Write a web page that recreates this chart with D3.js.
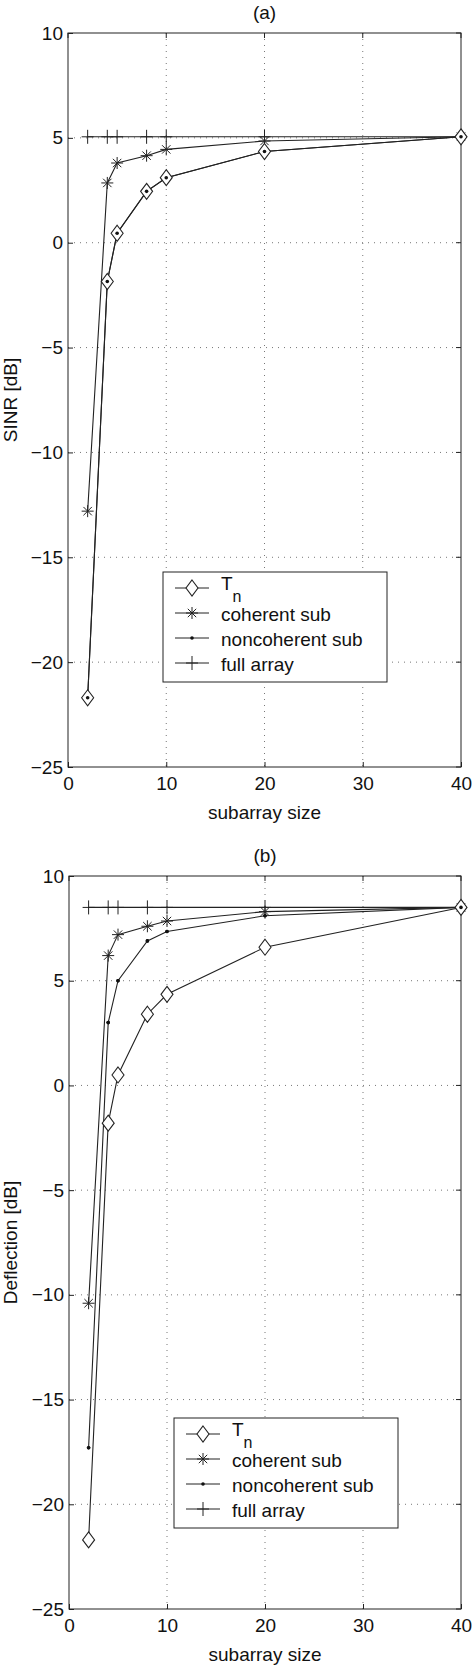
<!DOCTYPE html>
<html lang="en">
<head>
<meta charset="UTF-8">
<script src="https://cdn.jsdelivr.net/npm/d3@7"></script>
<style>
  body { margin: 0; background: #fff; }
  text { font-family: "Liberation Sans", Arial, sans-serif; fill: #111; }
</style>
</head>
<body>
<svg id="fig" width="474" height="1666"></svg>
<script>
var sizes = [2, 4, 5, 8, 10, 20, 40];

// panel (a) SINR
var sinrTn = [-21.7, -1.85, 0.45, 2.45, 3.1, 4.35, 5.05];
var sinrCoh = [-12.8, 2.85, 3.8, 4.15, 4.45, 4.85, 5.05];
var sinrNon = [-21.7, -1.85, 0.45, 2.45, 3.1, 4.35, 5.05];
var sinrFull = [5.05, 5.05, 5.05, 5.05, 5.05, 5.05, 5.05];

// panel (b) deflection
var defTn = [-21.7, -1.8, 0.5, 3.4, 4.35, 6.6, 8.5];
var defCoh = [-10.4, 6.2, 7.2, 7.6, 7.85, 8.3, 8.5];
var defNon = [-17.3, 3.0, 5.0, 6.9, 7.35, 8.1, 8.5];
var defFull = [8.5, 8.5, 8.5, 8.5, 8.5, 8.5, 8.5];

var xTicks = [0, 10, 20, 30, 40];
var yTicks = [10, 5, 0, -5, -10, -15, -20, -25];
var legendLabels = ["T", "coherent sub", "noncoherent sub", "full array"];

var svg = d3.select("#fig");

function panel(cfg) {
  var x = d3.scaleLinear().domain([0, 40]).range([cfg.left, cfg.right]);
  var y = d3.scaleLinear().domain([-25, 10]).range([cfg.bottom, cfg.top]);
  var g = svg.append("g");

  // dotted grid
  xTicks.slice(1, -1).forEach(function (t) {
    g.append("line").attr("x1", x(t)).attr("x2", x(t)).attr("y1", cfg.top).attr("y2", cfg.bottom)
      .attr("stroke", "#777").attr("stroke-dasharray", "1,5");
  });
  yTicks.slice(1, -1).forEach(function (t) {
    g.append("line").attr("x1", cfg.left).attr("x2", cfg.right).attr("y1", y(t)).attr("y2", y(t))
      .attr("stroke", "#777").attr("stroke-dasharray", "1,5");
  });

  // frame and axes
  g.append("rect").attr("x", cfg.left).attr("y", cfg.top)
    .attr("width", cfg.right - cfg.left).attr("height", cfg.bottom - cfg.top)
    .attr("fill", "none").attr("stroke", "#222");

  var xa = g.append("g").attr("transform", "translate(0," + cfg.bottom + ")")
    .call(d3.axisBottom(x).tickValues(xTicks).tickSize(-5).tickPadding(10));
  var ya = g.append("g").attr("transform", "translate(" + cfg.left + ",0)")
    .call(d3.axisLeft(y).tickValues(yTicks).tickSize(-5).tickPadding(5)
      .tickFormat(function (d) { return d < 0 ? "\u2212" + (-d) : d; }));
  [xa, ya].forEach(function (a) {
    a.select(".domain").remove();
    a.selectAll("text").style("font-size", "19px").attr("fill", "#111");
    a.selectAll("line").attr("stroke", "#222");
  });
  // right/top tick marks
  yTicks.forEach(function (t) {
    g.append("line").attr("x1", cfg.right).attr("x2", cfg.right - 5).attr("y1", y(t)).attr("y2", y(t)).attr("stroke", "#222");
  });
  xTicks.forEach(function (t) {
    g.append("line").attr("x1", x(t)).attr("x2", x(t)).attr("y1", cfg.top).attr("y2", cfg.top + 5).attr("stroke", "#222");
  });

  g.append("text").attr("x", (cfg.left + cfg.right) / 2).attr("y", cfg.top - 14)
    .attr("text-anchor", "middle").style("font-size", "19px").text(cfg.title);
  g.append("text").attr("x", (cfg.left + cfg.right) / 2).attr("y", cfg.bottom + 52)
    .attr("text-anchor", "middle").style("font-size", "19px").text("subarray size");
  g.append("text").attr("transform", "translate(17," + (cfg.top + cfg.bottom) / 2 + ") rotate(-90)")
    .attr("text-anchor", "middle").style("font-size", "19px").text(cfg.ylabel);

  var line = d3.line().x(function (d, i) { return x(sizes[i]); }).y(function (d) { return y(d); });
  var series = [
    { v: cfg.full, m: "plus" },
    { v: cfg.non, m: "dot" },
    { v: cfg.coh, m: "star" },
    { v: cfg.tn, m: "diamond" }
  ];
  series.forEach(function (s) {
    g.append("path").datum(s.v).attr("d", line).attr("fill", "none").attr("stroke", "#222").attr("stroke-width", 1.1);
    s.v.forEach(function (d, i) { marker(g, s.m, x(sizes[i]), y(d)); });
  });
  // noncoherent dots on top
  cfg.non.forEach(function (d, i) { marker(g, "dot", x(sizes[i]), y(d)); });

  // legend
  var L = cfg.legend;
  g.append("rect").attr("x", L.x).attr("y", L.y).attr("width", 224).attr("height", 110)
    .attr("fill", "#fff").attr("stroke", "#222");
  ["diamond", "star", "dot", "plus"].forEach(function (m, i) {
    var ly = L.y + 16 + i * 25;
    g.append("line").attr("x1", L.x + 12).attr("x2", L.x + 46).attr("y1", ly).attr("y2", ly).attr("stroke", "#222");
    marker(g, m, L.x + 29, ly);
    var t = g.append("text").attr("x", L.x + 58).attr("y", ly + (i === 0 ? 2 : 8)).style("font-size", "19px").text(legendLabels[i]);
    if (i === 0) t.append("tspan").attr("dy", 12).style("font-size", "16px").text("n");
  });
}

function marker(g, m, cx, cy) {
  if (m === "diamond") {
    g.append("path").attr("d", "M" + cx + "," + (cy - 8) + "L" + (cx + 6) + "," + cy + "L" + cx + "," + (cy + 8) + "L" + (cx - 6) + "," + cy + "Z")
      .attr("fill", "#fff").attr("stroke", "#222").attr("stroke-width", 1.1);
  } else if (m === "dot") {
    g.append("circle").attr("cx", cx).attr("cy", cy).attr("r", 1.8).attr("fill", "#111");
  } else if (m === "star") {
    var r = 6;
    [[r, 0], [0, r], [r * 0.7, r * 0.7], [r * 0.7, -r * 0.7]].forEach(function (p) {
      g.append("line").attr("x1", cx - p[0]).attr("x2", cx + p[0]).attr("y1", cy - p[1]).attr("y2", cy + p[1]).attr("stroke", "#222");
    });
  } else if (m === "plus") {
    g.append("line").attr("x1", cx - 6).attr("x2", cx + 6).attr("y1", cy).attr("y2", cy).attr("stroke", "#222");
    g.append("line").attr("x1", cx).attr("x2", cx).attr("y1", cy - 7).attr("y2", cy + 7).attr("stroke", "#222");
  }
}

panel({ title: "(a)", ylabel: "SINR [dB]", left: 68, right: 461, top: 33, bottom: 767,
  tn: sinrTn, coh: sinrCoh, non: sinrNon, full: sinrFull, legend: { x: 163, y: 572 } });
panel({ title: "(b)", ylabel: "Deflection [dB]", left: 69, right: 461, top: 876, bottom: 1609,
  tn: defTn, coh: defCoh, non: defNon, full: defFull, legend: { x: 174, y: 1418 } });
</script>
</body>
</html>
